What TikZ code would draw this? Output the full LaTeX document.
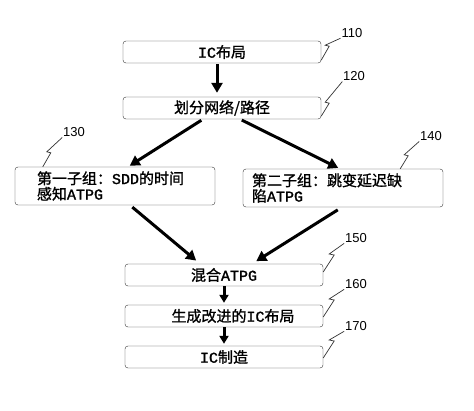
\documentclass[tikz,border=0pt]{standalone}
\usepackage{fontspec}
\newfontfamily\cjk{Noto Sans CJK SC}[FakeBold=1.2]
\newfontfamily\latfont{Liberation Mono}[FakeBold=1.5]
\newfontfamily\numfont{Liberation Sans}
\usetikzlibrary{arrows.meta}
\usetikzlibrary{positioning}

\newcommand{\lat}[1]{{\latfont #1}}

\tikzset{
  stepbox/.style={draw=black!80, rounded corners=3pt, minimum width=198pt, minimum height=22pt,
    inner sep=0pt, font=\cjk\fontsize{15}{15.5}\selectfont},
  groupbox/.style={stepbox, minimum width=200pt, minimum height=38pt, align=left},
  flow/.style={line width=3pt, -{Triangle[length=10pt, width=11pt]}},
  shortflow/.style={line width=3pt, -{Triangle[length=8pt, width=9pt]}},
  refnum/.style={font=\numfont\fontsize{13}{13}\selectfont, inner sep=0pt},
  lead/.style={draw=black!80, line width=0.7pt, shorten >= 1pt}
}

\begin{document}
\begin{tikzpicture}[x=1pt, y=-1pt]
    \useasboundingbox (0, 0) rectangle (474, 410);

    \node(b110) [stepbox] at (222, 52) {\lat{IC}布局};
    \node(b120) [stepbox] at (222, 108) {划分网络/路径};

    \node(b130) [groupbox, inner xsep=22pt, text width=156pt] at (115, 186) {
      第一子组：\lat{SDD}的时间\\
      感知\lat{ATPG}
    };
    \node(b140) [groupbox, inner xsep=9pt, text width=182pt] at (343, 188) {
      第二子组：跳变延迟缺\\
      陷\lat{ATPG}
    };

    \node(b150) [stepbox] at (224, 275) {混合\lat{ATPG}};
    \node(b160) [stepbox] at (224, 316) {\hspace{18pt}生成改进的\lat{IC}布局};
    \node(b170) [stepbox] at (224, 357) {\lat{IC}制造};

    \node(l110) [refnum] at (352, 33) {110};
    \node(l120) [refnum] at (354, 76) {120};
    \node(l130) [refnum] at (74, 132) {130};
    \node(l140) [refnum] at (431, 136) {140};
    \node(l150) [refnum] at (356, 238) {150};
    \node(l160) [refnum] at (356, 284) {160};
    \node(l170) [refnum] at (356, 326) {170};

    \draw[flow, shorten <= 1pt, shorten >= 4pt] ([xshift=-5pt]b110.south) -- ([xshift=-5pt]b120.north);
    \draw[flow, shorten <= 2pt, shorten >= 2pt] ([xshift=-19pt]b120.south) -- ([xshift=13pt]b130.north);
    \draw[flow, shorten <= 2pt, shorten >= 2pt] ([xshift=18pt]b120.south) -- ([xshift=-3pt]b140.north);
    \draw[flow, shorten <= 3pt, shorten >= 5pt] ([xshift=15pt]b130.south) -- ([xshift=-24pt]b150.north);
    \draw[flow, shorten <= 5pt, shorten >= 5pt] ([xshift=-1pt]b140.south) -- ([xshift=28pt]b150.north);
    \draw[shortflow, shorten >= 2pt] (b150) -- (b160);
    \draw[shortflow, shorten >= 2pt] (b160) -- (b170);

    \draw[lead] ([yshift=3pt]b110.south east) -- ++(8, -14) -- ++(-4, -1) -- (l110.south west);
    \draw[lead] ([yshift=3pt]b120.south east) -- ++(8, -13) -- ++(-4, -1) -- (l120.south west);
    \draw[lead] ([xshift=28pt]b130.north west) -- ++(8, -14) -- ++(-4, -1) -- (l130.south west);
    \draw[lead] ([xshift=-43pt]b140.north east) -- ++(8, -13) -- ++(-4, -1) -- (l140.south west);
    \draw[lead] ([yshift=3pt]b150.east) -- ++(11, -17) -- ++(-5, -1) -- (l150.south west);
    \draw[lead] ([yshift=-1pt]b160.east) -- ++(11, -17) -- ++(-5, -1) -- (l160.south west);
    \draw[lead] ([yshift=-1pt]b170.east) -- ++(11, -17) -- ++(-5, -1) -- (l170.south west);
\end{tikzpicture}
\end{document}
